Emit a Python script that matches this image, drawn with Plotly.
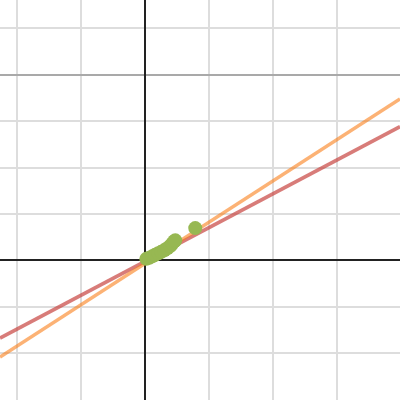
import numpy as np
import plotly.graph_objects as go

# grid units: one minor grid square = 1, major every 4
x_range = [-2.27, 3.98]
y_range = [-3.01, 5.61]

# scatter points (green)
pts_x = [0.016, 0.062, 0.109, 0.156, 0.203, 0.25, 0.297, 0.344, 0.39, 0.42, 0.453, 0.469, 0.781]
pts_y = [0.032, 0.054, 0.086, 0.119, 0.151, 0.183, 0.216, 0.259, 0.31, 0.356, 0.41, 0.43, 0.694]

# fitted lines: slope, intercept
line_names = ["red", "orange"]
slopes = [0.729, 0.89]
intercepts = [-0.02, -0.065]
line_colors = ["rgba(199,68,64,0.7)", "rgba(250,126,25,0.6)"]

fig = go.Figure()

xs = np.array(x_range)
for name, m, b, c in zip(line_names, slopes, intercepts, line_colors):
    fig.add_trace(go.Scatter(x=xs, y=m * xs + b, mode="lines", name=name,
                             line=dict(color=c, width=3.6)))

fig.add_trace(go.Scatter(x=pts_x, y=pts_y, mode="markers", name="points",
                         marker=dict(color="#97b852", size=14, line=dict(width=0))))

axis_style = dict(
    showticklabels=False,
    ticks="",
    dtick=4,
    tick0=0,
    showgrid=True,
    gridcolor="#a9a9a9",
    gridwidth=1.8,
    minor=dict(dtick=1, showgrid=True, gridcolor="#dddddd", gridwidth=1.5),
    zeroline=True,
    zerolinecolor="#222222",
    zerolinewidth=2,
    showline=False,
    fixedrange=True,
)

fig.update_xaxes(range=x_range, **axis_style)
fig.update_yaxes(range=y_range, **axis_style)

fig.update_layout(
    width=400,
    height=400,
    margin=dict(l=0, r=0, t=0, b=0),
    paper_bgcolor="white",
    plot_bgcolor="white",
    showlegend=False,
    hovermode=False,
)

# drop the browser's default body margin so the chart fills the window
fig.write_html("out.html", config={"displayModeBar": False},
               post_script="document.body.style.margin='0';document.body.style.overflow='hidden';")
